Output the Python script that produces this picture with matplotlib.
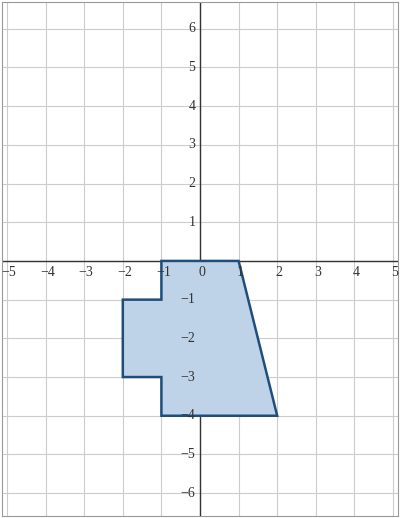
import matplotlib
matplotlib.use("Agg")
import matplotlib.pyplot as plt

poly_x = [-1, 1, 2, -1, -1, -2, -2, -1]
poly_y = [0, 0, -4, -4, -3, -3, -1, -1]
x_ticks = [-5, -4, -3, -2, -1, 0, 1, 2, 3, 4, 5]
y_ticks = [-6, -5, -4, -3, -2, -1, 1, 2, 3, 4, 5, 6]

fig = plt.figure(figsize=(4.02, 5.18), dpi=100)
ax = fig.add_axes([2/402, 2/518, 396/402, 514/518])
ax.set_xlim(-5.13, 5.13)
ax.set_ylim(-6.59, 6.69)
for v in range(-5, 6):
    ax.axvline(v, color='#cccccc', lw=0.8, zorder=0)
for v in range(-6, 7):
    ax.axhline(v, color='#cccccc', lw=0.8, zorder=0)
ax.axhline(0, color='#333333', lw=1, zorder=1)
ax.axvline(0, color='#333333', lw=1, zorder=1)
ax.fill(poly_x, poly_y, facecolor='#bed2e8', edgecolor='#1f4e7a', lw=1.8, zorder=2)
fnt = dict(family='Liberation Serif', fontsize=10, color='#333333')
for t in x_ticks:
    s = str(t).replace('-', '\u2212')
    ax.text(t + 0.05, -0.12, s, ha='center', va='top', zorder=3, **fnt)
for t in y_ticks:
    s = str(t).replace('-', '\u2212')
    ax.text(-0.12, t, s, ha='right', va='center', zorder=3, **fnt)
ax.set_xticks([]); ax.set_yticks([])
for s in ax.spines.values():
    s.set_color('#999999'); s.set_linewidth(0.8)
fig.savefig('out.png', dpi=100)
